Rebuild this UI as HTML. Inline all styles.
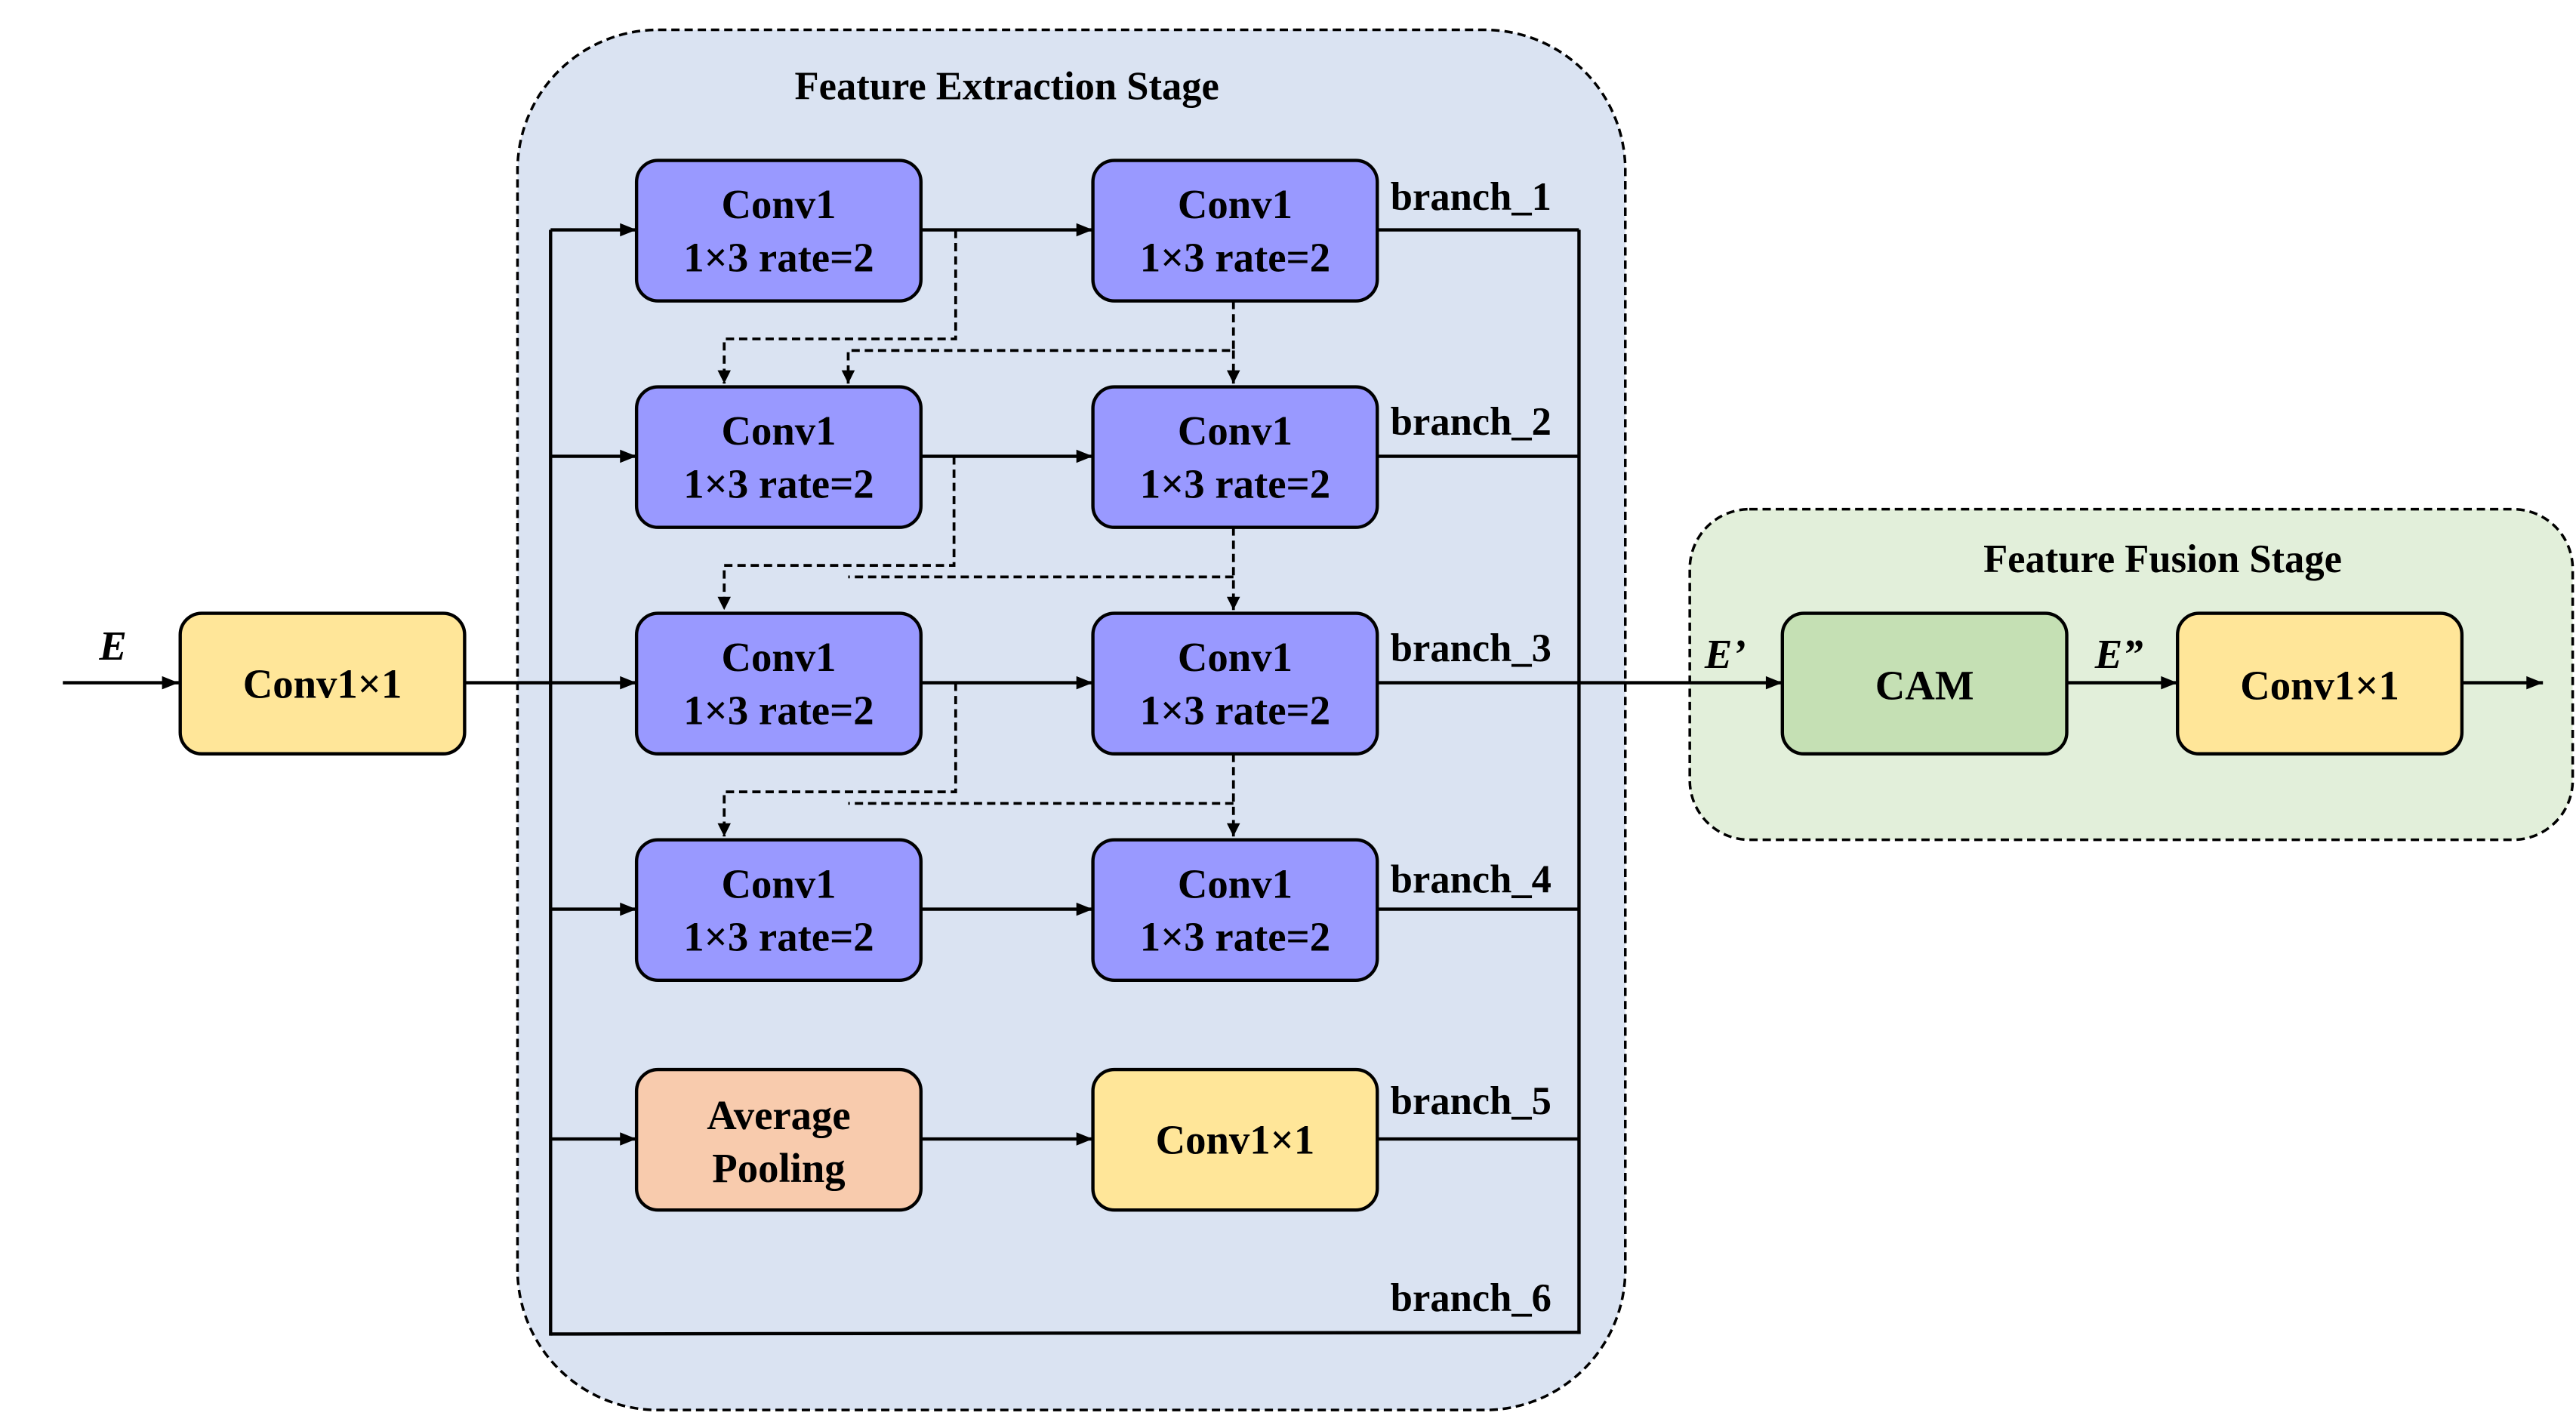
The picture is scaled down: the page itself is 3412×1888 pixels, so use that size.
<!DOCTYPE html>
<html><head><meta charset="utf-8"><style>
html,body{margin:0;padding:0;background:#fff;}
svg{display:block;}
svg text{font-family:"Liberation Serif","Times New Roman",Times,serif;font-weight:bold;fill:#000;}
</style></head><body>
<svg width="3412" height="1888" viewBox="0 0 1558 862" xmlns="http://www.w3.org/2000/svg" font-family="Liberation Serif, Times New Roman, serif">
<defs>
<marker id="a" viewBox="0 0 10 10" refX="10" refY="5" markerWidth="8" markerHeight="9" orient="auto" markerUnits="userSpaceOnUse"><path d="M0,0 L10,5 L0,10 z" fill="#000"/></marker>
<marker id="b" viewBox="0 0 10 10" refX="10" refY="5" markerWidth="11" markerHeight="10" orient="auto" markerUnits="userSpaceOnUse"><path d="M0,1 L10,5 L0,9 z" fill="#000"/></marker>
</defs>
<rect x="313" y="18" width="670" height="835" rx="85" fill="#dae3f2" stroke="#000" stroke-width="1.6" stroke-dasharray="5,3"/>
<rect x="1022" y="308" width="534" height="200" rx="36" fill="#e2efda" stroke="#000" stroke-width="1.6" stroke-dasharray="5,3"/>
<text x="609" y="60" font-size="24" text-anchor="middle">Feature Extraction Stage</text>
<text x="1308" y="346" font-size="24" text-anchor="middle">Feature Fusion  Stage</text>

<g stroke="#000" stroke-width="2" fill="none">
<line x1="333" y1="139" x2="333" y2="808"/>
<line x1="333" y1="807" x2="956" y2="806"/>
<line x1="955" y1="139" x2="955" y2="807"/>
<line x1="38" y1="413" x2="108" y2="413" marker-end="url(#b)"/>
<line x1="281" y1="413" x2="385" y2="413" marker-end="url(#b)"/>
<line x1="333" y1="139" x2="385" y2="139" marker-end="url(#b)"/>
<line x1="333" y1="276" x2="385" y2="276" marker-end="url(#b)"/>
<line x1="333" y1="550" x2="385" y2="550" marker-end="url(#b)"/>
<line x1="333" y1="689" x2="385" y2="689" marker-end="url(#b)"/>
<line x1="557" y1="139" x2="661" y2="139" marker-end="url(#b)"/>
<line x1="557" y1="276" x2="661" y2="276" marker-end="url(#b)"/>
<line x1="557" y1="413" x2="661" y2="413" marker-end="url(#b)"/>
<line x1="557" y1="550" x2="661" y2="550" marker-end="url(#b)"/>
<line x1="557" y1="689" x2="661" y2="689" marker-end="url(#b)"/>
<line x1="833" y1="139" x2="955" y2="139"/>
<line x1="833" y1="276" x2="955" y2="276"/>
<line x1="833" y1="413" x2="1078" y2="413" marker-end="url(#b)"/>
<line x1="833" y1="550" x2="955" y2="550"/>
<line x1="833" y1="689" x2="955" y2="689"/>
<line x1="1250" y1="413" x2="1317" y2="413" marker-end="url(#b)"/>
<line x1="1489" y1="413" x2="1538" y2="413" marker-end="url(#b)"/>
</g>
<g stroke="#000" stroke-width="1.7" fill="none" stroke-dasharray="5,3">
<polyline points="578,139 578,205 438,205 438,232" marker-end="url(#a)"/>
<polyline points="746,182 746,212 513,212 513,232" marker-end="url(#a)"/>
<line x1="746" y1="212" x2="746" y2="232" marker-end="url(#a)"/>
<polyline points="577,276 577,342 438,342 438,369" marker-end="url(#a)"/>
<polyline points="746,319 746,369" marker-end="url(#a)"/>
<line x1="746" y1="349" x2="513" y2="349"/>
<polyline points="578,413 578,479 438,479 438,506" marker-end="url(#a)"/>
<polyline points="746,456 746,506" marker-end="url(#a)"/>
<line x1="746" y1="486" x2="513" y2="486"/>
</g>
<g stroke="#000" stroke-width="2">
<rect x="109" y="371" width="172" height="85" rx="13" fill="#ffe699"/>
<rect x="385" y="97" width="172" height="85" rx="13" fill="#9999ff"/>
<rect x="661" y="97" width="172" height="85" rx="13" fill="#9999ff"/>
<rect x="385" y="234" width="172" height="85" rx="13" fill="#9999ff"/>
<rect x="661" y="234" width="172" height="85" rx="13" fill="#9999ff"/>
<rect x="385" y="371" width="172" height="85" rx="13" fill="#9999ff"/>
<rect x="661" y="371" width="172" height="85" rx="13" fill="#9999ff"/>
<rect x="385" y="508" width="172" height="85" rx="13" fill="#9999ff"/>
<rect x="661" y="508" width="172" height="85" rx="13" fill="#9999ff"/>
<rect x="385" y="647" width="172" height="85" rx="13" fill="#f8cbad"/>
<rect x="661" y="647" width="172" height="85" rx="13" fill="#ffe699"/>
<rect x="1078" y="371" width="172" height="85" rx="13" fill="#c5e0b4"/>
<rect x="1317" y="371" width="172" height="85" rx="13" fill="#ffe699"/>
</g>
<g font-size="25" text-anchor="middle">
<text x="195" y="422">Conv1×1</text>
<text x="471" y="132">Conv1</text><text x="471" y="164">1×3 rate=2</text>
<text x="747" y="132">Conv1</text><text x="747" y="164">1×3 rate=2</text>
<text x="471" y="269">Conv1</text><text x="471" y="301">1×3 rate=2</text>
<text x="747" y="269">Conv1</text><text x="747" y="301">1×3 rate=2</text>
<text x="471" y="406">Conv1</text><text x="471" y="438">1×3 rate=2</text>
<text x="747" y="406">Conv1</text><text x="747" y="438">1×3 rate=2</text>
<text x="471" y="543">Conv1</text><text x="471" y="575">1×3 rate=2</text>
<text x="747" y="543">Conv1</text><text x="747" y="575">1×3 rate=2</text>
<text x="471" y="683">Average</text><text x="471" y="715">Pooling</text>
<text x="747" y="698">Conv1×1</text>
<text x="1164" y="423">CAM</text>
<text x="1403" y="423">Conv1×1</text>
</g>
<g font-size="24">
<text x="841" y="127">branch_1</text>
<text x="841" y="263">branch_2</text>
<text x="841" y="400">branch_3</text>
<text x="841" y="540">branch_4</text>
<text x="841" y="674">branch_5</text>
<text x="841" y="793">branch_6</text>
</g>
<g font-size="25" font-style="italic">
<text x="60" y="399">E</text>
<text x="1031" y="404">E’</text>
<text x="1267" y="404">E”</text>
</g>
</svg>
</body></html>
